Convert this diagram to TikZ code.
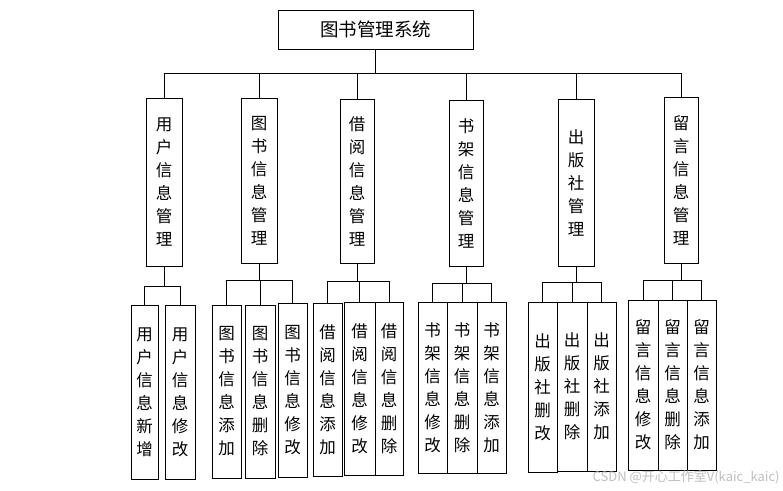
\documentclass[tikz,border=0pt]{standalone}
\usepackage{fontspec}
\setmainfont{Noto Sans CJK SC}
\begin{document}
\begin{tikzpicture}[x=1pt,y=-1pt,line width=1pt,
  box/.style={draw,inner sep=0pt,align=center,font=\fontsize{16.5}{23}\selectfont}]
\useasboundingbox (0,0) rectangle (783,490);
\newcommand\bx[6]{%
  \pgfmathsetmacro\bw{#4-#2}\pgfmathsetmacro\bh{#5-#3}%
  \node[box,minimum width=\bw pt,minimum height=\bh pt] (#1) at ({(#2+#4)/2},{(#3+#5)/2}) {#6};}
\bx{top}{278}{10}{473}{49}{\fontsize{18.5}{20}\selectfont 图书管理系统}
\bx{p1}{146}{98}{182}{266}{用\\户\\信\\息\\管\\理}
\bx{p2}{241}{98}{277}{263}{图\\书\\信\\息\\管\\理}
\bx{p3}{340}{99}{374}{263}{借\\阅\\信\\息\\管\\理}
\bx{p4}{449}{100}{483}{266}{书\\架\\信\\息\\管\\理}
\bx{p5}{558}{99}{594}{266}{出\\版\\社\\管\\理}
\bx{p6}{664}{97}{698}{263}{留\\言\\信\\息\\管\\理}
\bx{c11}{131}{305}{158}{479}{用\\户\\信\\息\\新\\增}
\bx{c12}{165}{305}{195}{479}{用\\户\\信\\息\\修\\改}
\bx{c21}{212}{305}{241}{478}{图\\书\\信\\息\\添\\加}
\bx{c22}{245}{305}{275}{478}{图\\书\\信\\息\\删\\除}
\bx{c23}{278}{303}{307}{477}{图\\书\\信\\息\\修\\改}
\bx{c31}{313}{303}{342}{476}{借\\阅\\信\\息\\添\\加}
\bx{c32}{344}{302}{375}{475}{借\\阅\\信\\息\\修\\改}
\bx{c33}{375}{302}{403}{475}{借\\阅\\信\\息\\删\\除}
\bx{c41}{418}{302}{447}{473}{书\\架\\信\\息\\修\\改}
\bx{c42}{447}{302}{477}{473}{书\\架\\信\\息\\删\\除}
\bx{c43}{477}{302}{506}{473}{书\\架\\信\\息\\添\\加}
\bx{c51}{528}{302}{557}{472}{出\\版\\社\\删\\改}
\bx{c52}{557}{302}{587}{471}{出\\版\\社\\删\\除}
\bx{c53}{587}{302}{616}{471}{出\\版\\社\\添\\加}
\bx{c61}{628}{300}{658}{470}{留\\言\\信\\息\\修\\改}
\bx{c62}{658}{300}{687}{470}{留\\言\\信\\息\\删\\除}
\bx{c63}{687}{300}{716}{470}{留\\言\\信\\息\\添\\加}
% top level connectors
\coordinate (bus) at (0,73);
\draw (top.south) -- (top.south|-bus);
\draw (p1.north|-bus) -- (p6.north|-bus);
\foreach \p in {p1,p2,p3,p4,p5,p6} \draw (\p.north|-bus) -- (\p.north);
% group connectors
\foreach \p/\y/\a/\b/\c in {p1/286/c11/c12/c12, p2/280/c21/c22/c23, p3/281/c31/c32/c33, p4/283/c41/c42/c43, p5/282/c51/c52/c53, p6/280/c61/c62/c63}{
  \coordinate (b) at (0,\y);
  \draw (\p.south) -- (\p.south|-b);
  \draw (\a.north|-b) -- (\c.north|-b);
  \foreach \q in {\a,\b,\c} \draw (\q.north|-b) -- (\q.north);
}
\node[text=black!25,font=\fontsize{13}{14}\selectfont,anchor=south east,inner sep=1pt] (wm) at (781,486) {CSDN @开心工作室V(kaic\_kaic)};
\end{tikzpicture}
\end{document}
